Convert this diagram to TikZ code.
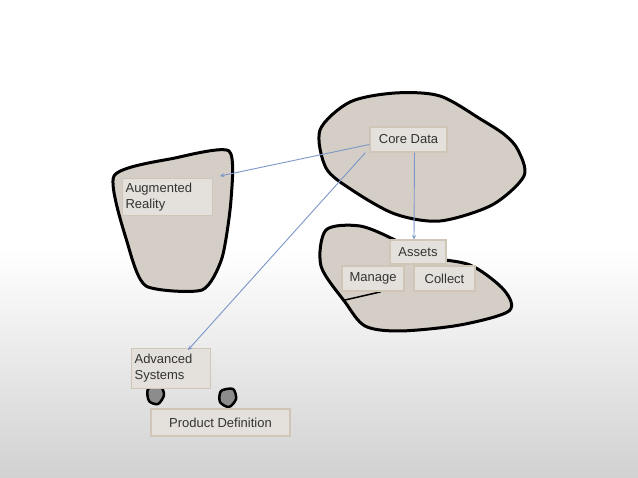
\documentclass[tikz,border=0pt]{standalone}
\usepackage{fontspec}
\setmainfont{Liberation Sans}
\begin{document}
\begin{tikzpicture}[x=1pt,y=-1pt,
  blob/.style={draw=black,line width=3pt,fill=blobc,line join=round},
  lbl/.style={draw=boxb,line width=1.2pt,fill=boxf,font=\fontsize{13}{16}\selectfont,text=black!80,inner sep=3pt},
  arr/.style={draw=arrc,line width=0.9pt,-stealth}]
\definecolor{blobc}{HTML}{D5CEC6}
\definecolor{boxf}{HTML}{E4E1DC}
\definecolor{boxb}{HTML}{CFC6B8}
\definecolor{arrc}{HTML}{7B96C8}
\fill[white] (0,0) rectangle (638,250);
\shade[top color=white,bottom color=black!18] (0,249) rectangle (638,478);
\useasboundingbox (0,0) rectangle (638,478);
% core data blob
\draw[blob] plot[smooth cycle,tension=0.5] coordinates{(320,130)(350,102)(395,93)(440,96)(482,120)(505,135)(518,150)(524,176)(492,205)(440,221)(395,214)(352,190)(326,168)};
% augmented reality blob
\draw[blob] plot[smooth cycle,tension=0.4] coordinates{(114,176)(175,158)(229,151)(231,200)(222,258)(202,290)(146,286)(128,245)};
% assets blob
\draw[blob] plot[smooth cycle,tension=0.5] coordinates{(326,230)(360,226)(395,240)(422,256)(470,265)(504,290)(509,311)(460,325)(400,331)(365,326)(345,302)(321,266)};
\draw[black,line width=1.5pt] (345,300) -- (380,292) -- (400,272);
% small blobs
\draw[blob,line width=2.5pt,fill=black!45] plot[smooth cycle] coordinates{(148,389)(160,386)(164,395)(158,404)(149,401)};
\draw[blob,line width=2.5pt,fill=black!45] plot[smooth cycle] coordinates{(221,391)(233,389)(236,399)(229,407)(220,402)};
% labels
\node[lbl,minimum width=77pt,minimum height=25pt] (core) at (408.5,139.5) {Core Data};
\node[lbl,text width=84pt,minimum height=37pt,align=left,anchor=north west] (ar) at (122,178) {Augmented\\Reality};
\node[lbl,minimum width=56pt,minimum height=24pt] (assets) at (418,252) {Assets};
\node[lbl,minimum width=62pt,minimum height=25pt] (manage) at (373,278.5) {Manage};
\node[lbl,minimum width=61pt,minimum height=25pt] (collect) at (444.5,278.5) {Collect};
\node[lbl,text width=73pt,minimum height=40pt,align=left,anchor=north west] (adv) at (131,348) {Advanced\\Systems};
\node[lbl,minimum width=139pt,minimum height=27pt] (prod) at (220.5,422.5) {Product Definition};
% arrows
\draw[arr] (core.west) ++(0,5) -- (220,176);
\draw[arr] (core.south west) ++(-4,0) -- (188,350);
\draw[arr] (core.south) ++(6,0) -- (assets.north -| 414,0);
\end{tikzpicture}
\end{document}
